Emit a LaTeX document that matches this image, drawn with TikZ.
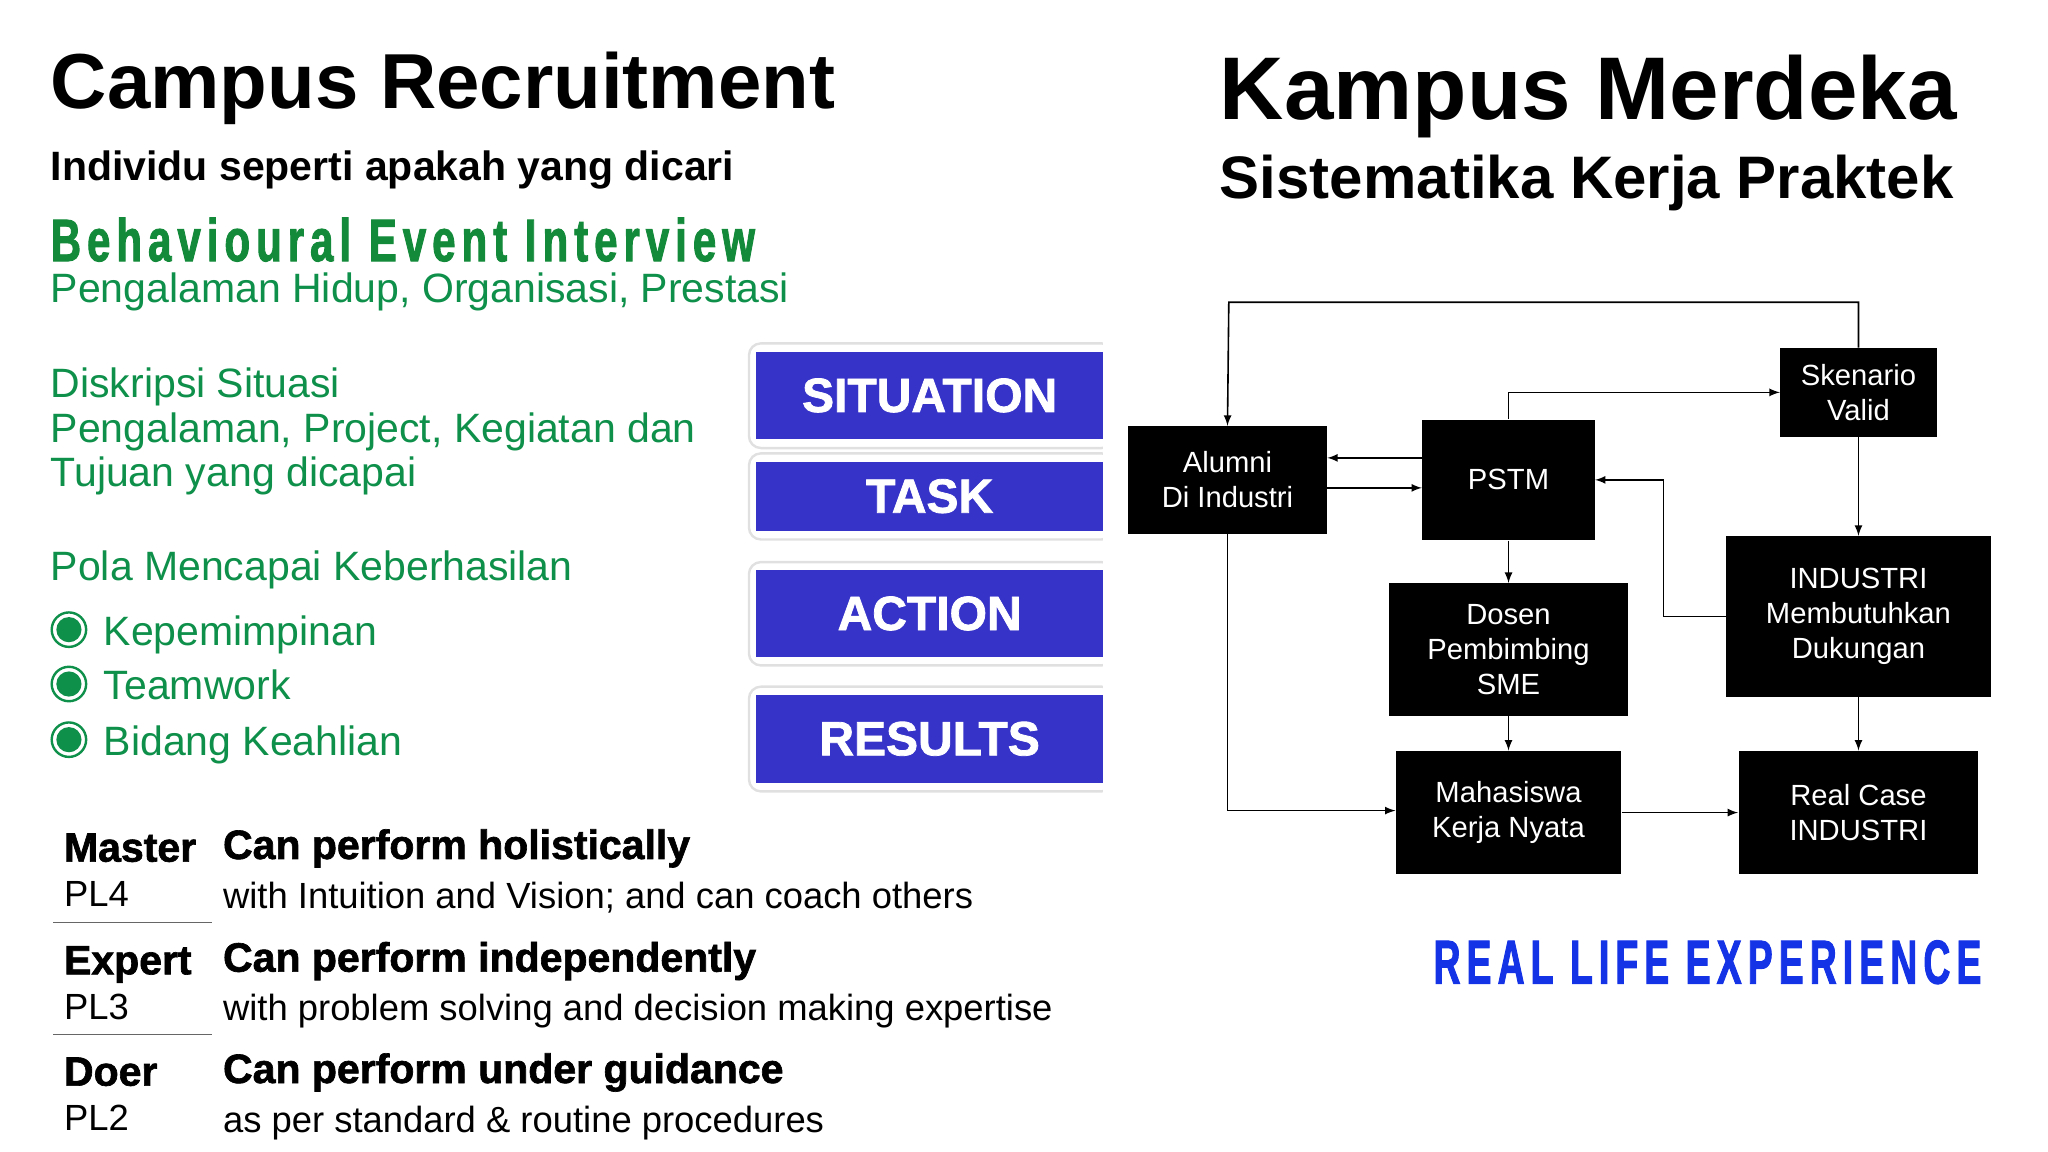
\documentclass[tikz,border=0pt]{standalone}
\usepackage{fontspec}
\setmainfont{Liberation Sans}
\newfontfamily\condfont{Liberation Sans}[FakeStretch=0.7,LetterSpace=10,UprightFont={* Bold},FakeBold=1.5]
\newfontfamily\lifefont{Liberation Sans}[FakeStretch=0.6,LetterSpace=10,UprightFont={* Bold},FakeBold=1.5]
\newfontfamily\blackfont{Liberation Sans}[UprightFont={* Bold},FakeBold=1.6]
\usetikzlibrary{positioning}
\definecolor{starblue}{HTML}{3633C9}
\definecolor{beigreen}{HTML}{138A3A}
\definecolor{txtgreen}{HTML}{0E8F4A}
\definecolor{lifeblue}{HTML}{1533E6}
\newlength{\px}\setlength{\px}{0.6628pt}
\tikzset{
  star/.style={fill=starblue, text=white, font=\fontsize{24}{24}\blackfont,
               minimum width=262\px, minimum height=#1, inner sep=0pt},
  starframe/.style={draw=black!12, fill=white, rounded corners=6pt, line width=1.2pt},
  flow/.style={fill=black, text=white, align=center, inner sep=0pt,
               font=\fontsize{14.6}{17.5}\selectfont},
  link/.style={thick, -latex},
  grn/.style={anchor=base west, inner sep=0pt, text=txtgreen, font=\fontsize{20.5}{20.5}\selectfont},
  lvl/.style={anchor=base west, inner sep=0pt, font=\fontsize{18.2}{18.2}\selectfont},
  lvlhead/.style={lvl, font=\fontsize{20.5}{20.5}\blackfont},
}
\begin{document}
\begin{tikzpicture}[x=0.6628pt,y=-0.6628pt]
\useasboundingbox (0,0) rectangle (1545,869);

% left column
\node (title) [anchor=base west, inner sep=0pt, font=\fontsize{39}{39}\selectfont\bfseries] at (38,82) {Campus Recruitment};
\node (sub) [anchor=base west, inner sep=0pt, font=\fontsize{20.5}{20.5}\selectfont\bfseries] at (38,136) {Individu seperti apakah yang dicari};
\node (bei) [anchor=base west, inner sep=0pt, text=beigreen, font=\fontsize{30}{30}\condfont] at (38,197) {Behavioural Event Interview};
\node (peng) [grn] at (38,228) {Pengalaman Hidup, Organisasi, Prestasi};
\node (desk1) [grn] at (38,300) {Diskripsi Situasi};
\node (desk2) [grn] at (38,334) {Pengalaman, Project, Kegiatan dan};
\node (desk3) [grn] at (38,367) {Tujuan yang dicapai};
\node (pola) [grn] at (38,438) {Pola Mencapai Keberhasilan};
\foreach \y/\t [count=\i] in {487/Kepemimpinan, 528/Teamwork, 570/Bidang Keahlian}{
  \node (dot\i) [circle, draw=txtgreen, line width=1.2pt, fill=white, minimum size=26\px, inner sep=0pt] at (52,\y-12) {};
  \fill[txtgreen] (dot\i.center) circle (9.5);
  \node (pt\i) [grn] at (78,\y) {\t};
}

% STAR boxes
\foreach \t/\a/\b [count=\i] in {SITUATION/265/331, TASK/348/400, ACTION/430/495, RESULTS/524/590}{
  \fill[starframe] (565,\a-6) rectangle (840,\b+7);
  \node (star\i) [star=(\b-\a)*\px, anchor=north west] at (570,\a) {\t};
}
\fill[white] (832,250) rectangle (845,605);

% levels
\foreach \y/\lv/\pl/\hd/\ds in {
  648/Master/PL4/Can perform holistically/with Intuition and Vision; and can coach others,
  733/Expert/PL3/Can perform independently/with problem solving and decision making expertise,
  817/Doer/PL2/Can perform under guidance/as per standard \& routine procedures}{
  \node [lvlhead] at (48,\y+2) {\lv};
  \node [lvl] at (48,\y+36) {\pl};
  \node [lvlhead] at (168,\y) {\hd};
  \node [lvl] at (168,\y+37) {\ds};
}
\draw[black!60] (40,696) -- (160,696);
\draw[black!60] (40,780) -- (160,780);

% right column
\node (km) [anchor=base west, inner sep=0pt, font=\fontsize{44.5}{44.5}\selectfont\bfseries] at (920,90) {Kampus Merdeka};
\node (skp) [anchor=base west, inner sep=0pt, font=\fontsize{30}{30}\selectfont\bfseries] at (920,150) {Sistematika Kerja Praktek};

\node (alumni) [flow, minimum width=150\px, minimum height=81\px] at (926,362) {Alumni\\Di Industri};
\node (pstm) [flow, minimum width=130\px, minimum height=91\px] at (1138,362) {PSTM};
\node (sken) [flow, minimum width=118\px, minimum height=67\px] at (1402,296) {Skenario\\Valid};
\node (ind) [flow, minimum width=200\px, minimum height=121\px] at (1402,465) {INDUSTRI\\Membutuhkan\\Dukungan};
\node (dosen) [flow, minimum width=180\px, minimum height=100\px] at (1138,490) {Dosen\\Pembimbing\\SME};
\node (mhs) [flow, minimum width=170\px, minimum height=93\px] at (1138,613) {Mahasiswa\\Kerja Nyata};
\node (real) [flow, minimum width=181\px, minimum height=93\px] at (1402,613) {Real Case\\INDUSTRI};

\draw[link] (sken.north) |- (927,228) -- (alumni.north);
\draw[link] (pstm.north) |- (sken.west);
\draw[link] ([yshift=-4pt]alumni.east) -- ([yshift=-4pt]pstm.west);
\draw[link] ([yshift=11pt]pstm.west) -- ([yshift=11pt]alumni.east);
\draw[link] (sken) -- (ind);
\draw[link] (ind.west) -- (1255,465) |- (pstm.east);
\draw[link] (pstm) -- (dosen);
\draw[link] (dosen) -- (mhs);
\draw[link] (alumni.south) |- ([yshift=1pt]mhs.west);
\draw[link] (mhs) -- (real);
\draw[link] (ind) -- (real);

\node (life) [anchor=base east, inner sep=0pt, text=lifeblue, font=\fontsize{31}{31}\lifefont] at (1495,742) {REAL LIFE EXPERIENCE};
\end{tikzpicture}
\end{document}
